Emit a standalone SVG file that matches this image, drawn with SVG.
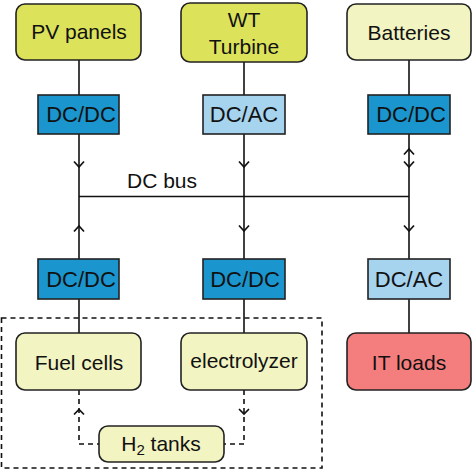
<svg xmlns="http://www.w3.org/2000/svg" width="474" height="470" viewBox="0 0 474 470">
<style>
  .box { stroke: #222; stroke-width: 1.6; }
  .src { fill: #DCE35B; }
  .lite { fill: #F2F4C2; }
  .dcdc { fill: #1A95CD; }
  .dcac { fill: #A6D3EE; }
  .load { fill: #F47E7E; }
  text { font-family: "Liberation Sans", Arial, sans-serif; font-size: 21px; fill: #111; text-anchor: middle; }
  .cv { font-size: 22px; }
  .ln { stroke: #111; stroke-width: 1.6; fill: none; }
  .dash { stroke: #111; stroke-width: 1.6; fill: none; stroke-dasharray: 5 4; }
  .head { stroke: #111; stroke-width: 1.7; fill: none; }
</style>
<rect x="0" y="0" width="474" height="470" fill="#fff"/>
<g id="connectors">
  <line class="ln" x1="79" y1="60" x2="79" y2="95"/>
  <line class="ln" x1="244" y1="62" x2="244" y2="95"/>
  <line class="ln" x1="409" y1="60" x2="409" y2="95"/>
  <line class="ln" x1="79" y1="134" x2="79" y2="259"/>
  <line class="ln" x1="244" y1="134" x2="244" y2="259"/>
  <line class="ln" x1="409" y1="134" x2="409" y2="259"/>
  <line class="ln" x1="79" y1="196.5" x2="409" y2="196.5"/>
  <line class="ln" x1="79" y1="299" x2="79" y2="333"/>
  <line class="ln" x1="244" y1="299" x2="244" y2="333"/>
  <line class="ln" x1="409" y1="299" x2="409" y2="333"/>
  <path class="head" d="M74,161.5 L79,167 L84,161.5"/>
  <path class="head" d="M239,161.5 L244,167 L249,161.5"/>
  <path class="head" d="M404,154.5 L409,149 L414,154.5"/>
  <path class="head" d="M404,161.5 L409,167 L414,161.5"/>
  <path class="head" d="M74,231.5 L79,226 L84,231.5"/>
  <path class="head" d="M239,225.5 L244,231 L249,225.5"/>
  <path class="head" d="M404,225.5 L409,231 L414,225.5"/>
  <path class="dash" d="M79,390 L79,444 L99,444"/>
  <path class="dash" d="M244,390 L244,444 L224,444"/>
  <path class="head" d="M74,414.5 L79,409.5 L84,414.5"/>
  <path class="head" d="M239,409 L244,414 L249,409"/>
  <rect class="dash" x="1.5" y="318" width="320.5" height="150"/>
</g>
<g id="pv"><rect class="box src" x="16" y="4" width="125" height="56" rx="9"/><text x="79" y="39">PV panels</text></g>
<g id="wt"><rect class="box src" x="181" y="3" width="126" height="59" rx="9"/><text x="244" y="27">WT</text><text x="244" y="54">Turbine</text></g>
<g id="batteries"><rect class="box lite" x="347" y="4" width="124" height="56" rx="9"/><text x="409" y="40">Batteries</text></g>
<g id="dcdc1"><rect class="box dcdc" x="38" y="95" width="81" height="39"/><text class="cv" x="81" y="122">DC/DC</text></g>
<g id="dcac1"><rect class="box dcac" x="203" y="95" width="82" height="39"/><text class="cv" x="244" y="122">DC/AC</text></g>
<g id="dcdc2"><rect class="box dcdc" x="368" y="95" width="82" height="39"/><text class="cv" x="411" y="122">DC/DC</text></g>
<g id="bus"><text x="162" y="188">DC bus</text></g>
<g id="dcdc3"><rect class="box dcdc" x="38" y="259" width="81" height="40"/><text class="cv" x="81" y="287">DC/DC</text></g>
<g id="dcdc4"><rect class="box dcdc" x="203" y="259" width="82" height="40"/><text class="cv" x="245" y="287">DC/DC</text></g>
<g id="dcac2"><rect class="box dcac" x="368" y="259" width="82" height="40"/><text class="cv" x="409" y="287">DC/AC</text></g>
<g id="fuel"><rect class="box lite" x="16" y="333" width="125" height="57" rx="9"/><text x="79" y="370">Fuel cells</text></g>
<g id="elec"><rect class="box lite" x="181" y="333" width="126" height="57" rx="9"/><text x="244" y="368">electrolyzer</text></g>
<g id="it"><rect class="box load" x="347" y="333" width="124" height="57" rx="9"/><text x="409" y="370">IT loads</text></g>
<g id="h2"><rect class="box lite" x="99" y="426" width="125" height="36" rx="9"/><text x="161" y="451">H<tspan font-size="15" dy="4">2</tspan><tspan dy="-4"> tanks</tspan></text></g>
</svg>
